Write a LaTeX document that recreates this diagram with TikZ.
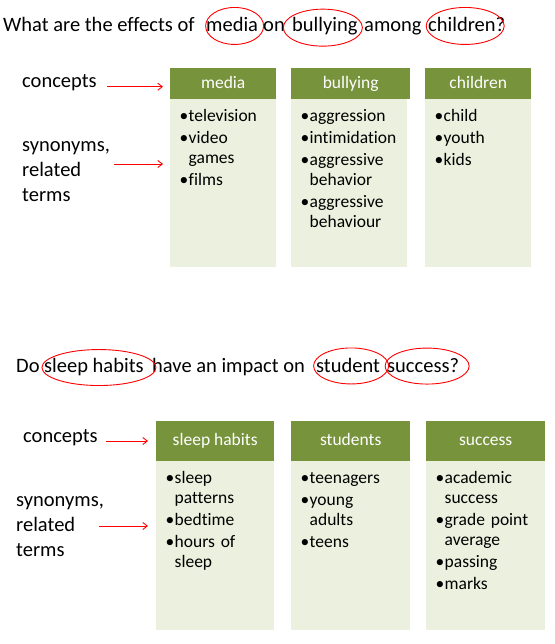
\documentclass[tikz,border=0pt]{standalone}
\usepackage{fontspec}
\setmainfont{Carlito}[Ligatures=NoCommon]
\usetikzlibrary{arrows.meta}
\definecolor{headgreen}{HTML}{77933C}
\definecolor{bodygreen}{HTML}{EBF1DE}
\newcommand{\itm}[1]{\hangindent=8.5pt\hangafter=1\makebox[8.5pt][l]{\hspace{-0.5pt}\textbullet}#1\par}

\begin{document}
\begin{tikzpicture}[x=1pt,y=-1pt,
  qword/.style={inner sep=0,anchor=base west,font=\fontsize{20.5}{25}\selectfont},
  sidetext/.style={inner sep=0,anchor=base west,text width=95pt,align=left,font=\fontsize{20.5}{25}\selectfont},
  ring/.style={red,line width=0.9pt},
  redarrow/.style={red,line width=0.9pt,-{Straight Barb[length=4.5pt,width=7pt]}},
  headbox/.style={fill=headgreen,text=white,inner sep=0,anchor=north west,text height=12pt,text depth=3pt,
    font=\fontsize{17.5}{20}\selectfont},
  bodybox/.style={fill=bodygreen,inner sep=0,anchor=north west},
  terms/.style={inner sep=0,anchor=base west,text width=112pt,font=\fontsize{17.5}{20}\selectfont,
    execute at begin node={\setlength{\parskip}{2pt}}}]
\useasboundingbox (0,0) rectangle (554,644);
% First question
\node[qword] (q1) at (3,32) {What are the effects of};
\node[qword] (media) at (206,32) {media};
\node[qword] (q2) at (263,32) {on};
\node[qword] (bullying) at (292,32) {bullying};
\node[qword] (q3) at (364,32) {among};
\node[qword] (children) at (428,32) {children?};
\draw[ring] (media.center) ++(2.5,1) ellipse [x radius=29pt, y radius=18.5pt];
\draw[ring] (bullying.center) ++(-2,1) ellipse [x radius=39.5pt, y radius=18.5pt];
\draw[ring] (children.center) ++(-1.5,1) ellipse [x radius=39pt, y radius=18.5pt];
% Concept boxes
\node[headbox,minimum width=106,minimum height=31] (hmedia) at (170,68) {media};
\node[bodybox,minimum width=106,minimum height=168] (bmedia) at (170,99) {};
\node[headbox,minimum width=119,minimum height=31] (hbullying) at (291,68) {bullying};
\node[bodybox,minimum width=116,minimum height=168] (bbullying) at (291,99) {};
\node[headbox,minimum width=106,minimum height=31] (hchildren) at (425,68) {children};
\node[bodybox,minimum width=106,minimum height=168] (bchildren) at (425,99) {};
\node[terms] (lmedia) at (180,122) {\itm{television}\itm{video\newline games}\itm{films}};
\node[terms] (lbullying) at (301,122) {\itm{aggression}\itm{intimidation}%
  \itm{aggressive\newline behavior}\itm{aggressive\newline behaviour}};
\node[terms] (lchildren) at (435,122) {\itm{child}\itm{youth}\itm{kids}};
% Labels and arrows
\node[sidetext] (c1) at (22,88) {concepts};
\node[sidetext] (s1) at (22,152) {synonyms,\\related\\terms};
\coordinate (a1) at (107,86.7);
\coordinate (a2) at (114,164);
\draw[redarrow] (a1) -- ([xshift=-7pt]a1 -| hmedia.west);
\draw[redarrow] (a2) -- ([xshift=-7pt]a2 -| bmedia.west);

% Second question
\node[qword] (q4) at (16,372) {Do};
\node[qword] (sleep) at (44,372) {sleep habits};
\node[qword] (q5) at (152,372) {have an impact on};
\node[qword] (student) at (316,372) {student};
\node[qword] (success) at (387,372) {success?};
\draw[ring] (sleep.center) ++(5,1) ellipse [x radius=57pt, y radius=18pt];
\draw[ring] (student.center) ++(3,1) ellipse [x radius=37.5pt, y radius=18pt];
\draw[ring] (success.center) ++(4,1) ellipse [x radius=42pt, y radius=18pt];
% Concept boxes
\node[headbox,minimum width=118,minimum height=40] (hsleep) at (156,421) {sleep habits};
\node[bodybox,minimum width=118,minimum height=169] (bsleep) at (156,461) {};
\node[headbox,minimum width=119,minimum height=40] (hstudents) at (291,421) {students};
\node[bodybox,minimum width=119,minimum height=169] (bstudents) at (291,461) {};
\node[headbox,minimum width=119,minimum height=40] (hsuccess) at (426,421) {success};
\node[bodybox,minimum width=119,minimum height=169] (bsuccess) at (426,461) {};
\node[terms] (lsleep) at (166,483) {\itm{sleep\newline patterns}\itm{bedtime}\itm{hours of\newline sleep}};
\node[terms] (lstudents) at (301,483) {\itm{teenagers}\itm{young\newline adults}\itm{teens}};
\node[terms] (lsuccess) at (436,483) {\itm{academic\newline success}\itm{grade point\newline average}%
  \itm{passing}\itm{marks}};
% Labels and arrows
\node[sidetext] (c2) at (23,442) {concepts};
\node[sidetext] (s2) at (16,506) {synonyms,\\related\\terms};
\coordinate (a3) at (106,441);
\coordinate (a4) at (99,526);
\draw[redarrow] (a3) -- ([xshift=-8pt]a3 -| hsleep.west);
\draw[redarrow] (a4) -- ([xshift=-8pt]a4 -| bsleep.west);
\end{tikzpicture}
\end{document}
